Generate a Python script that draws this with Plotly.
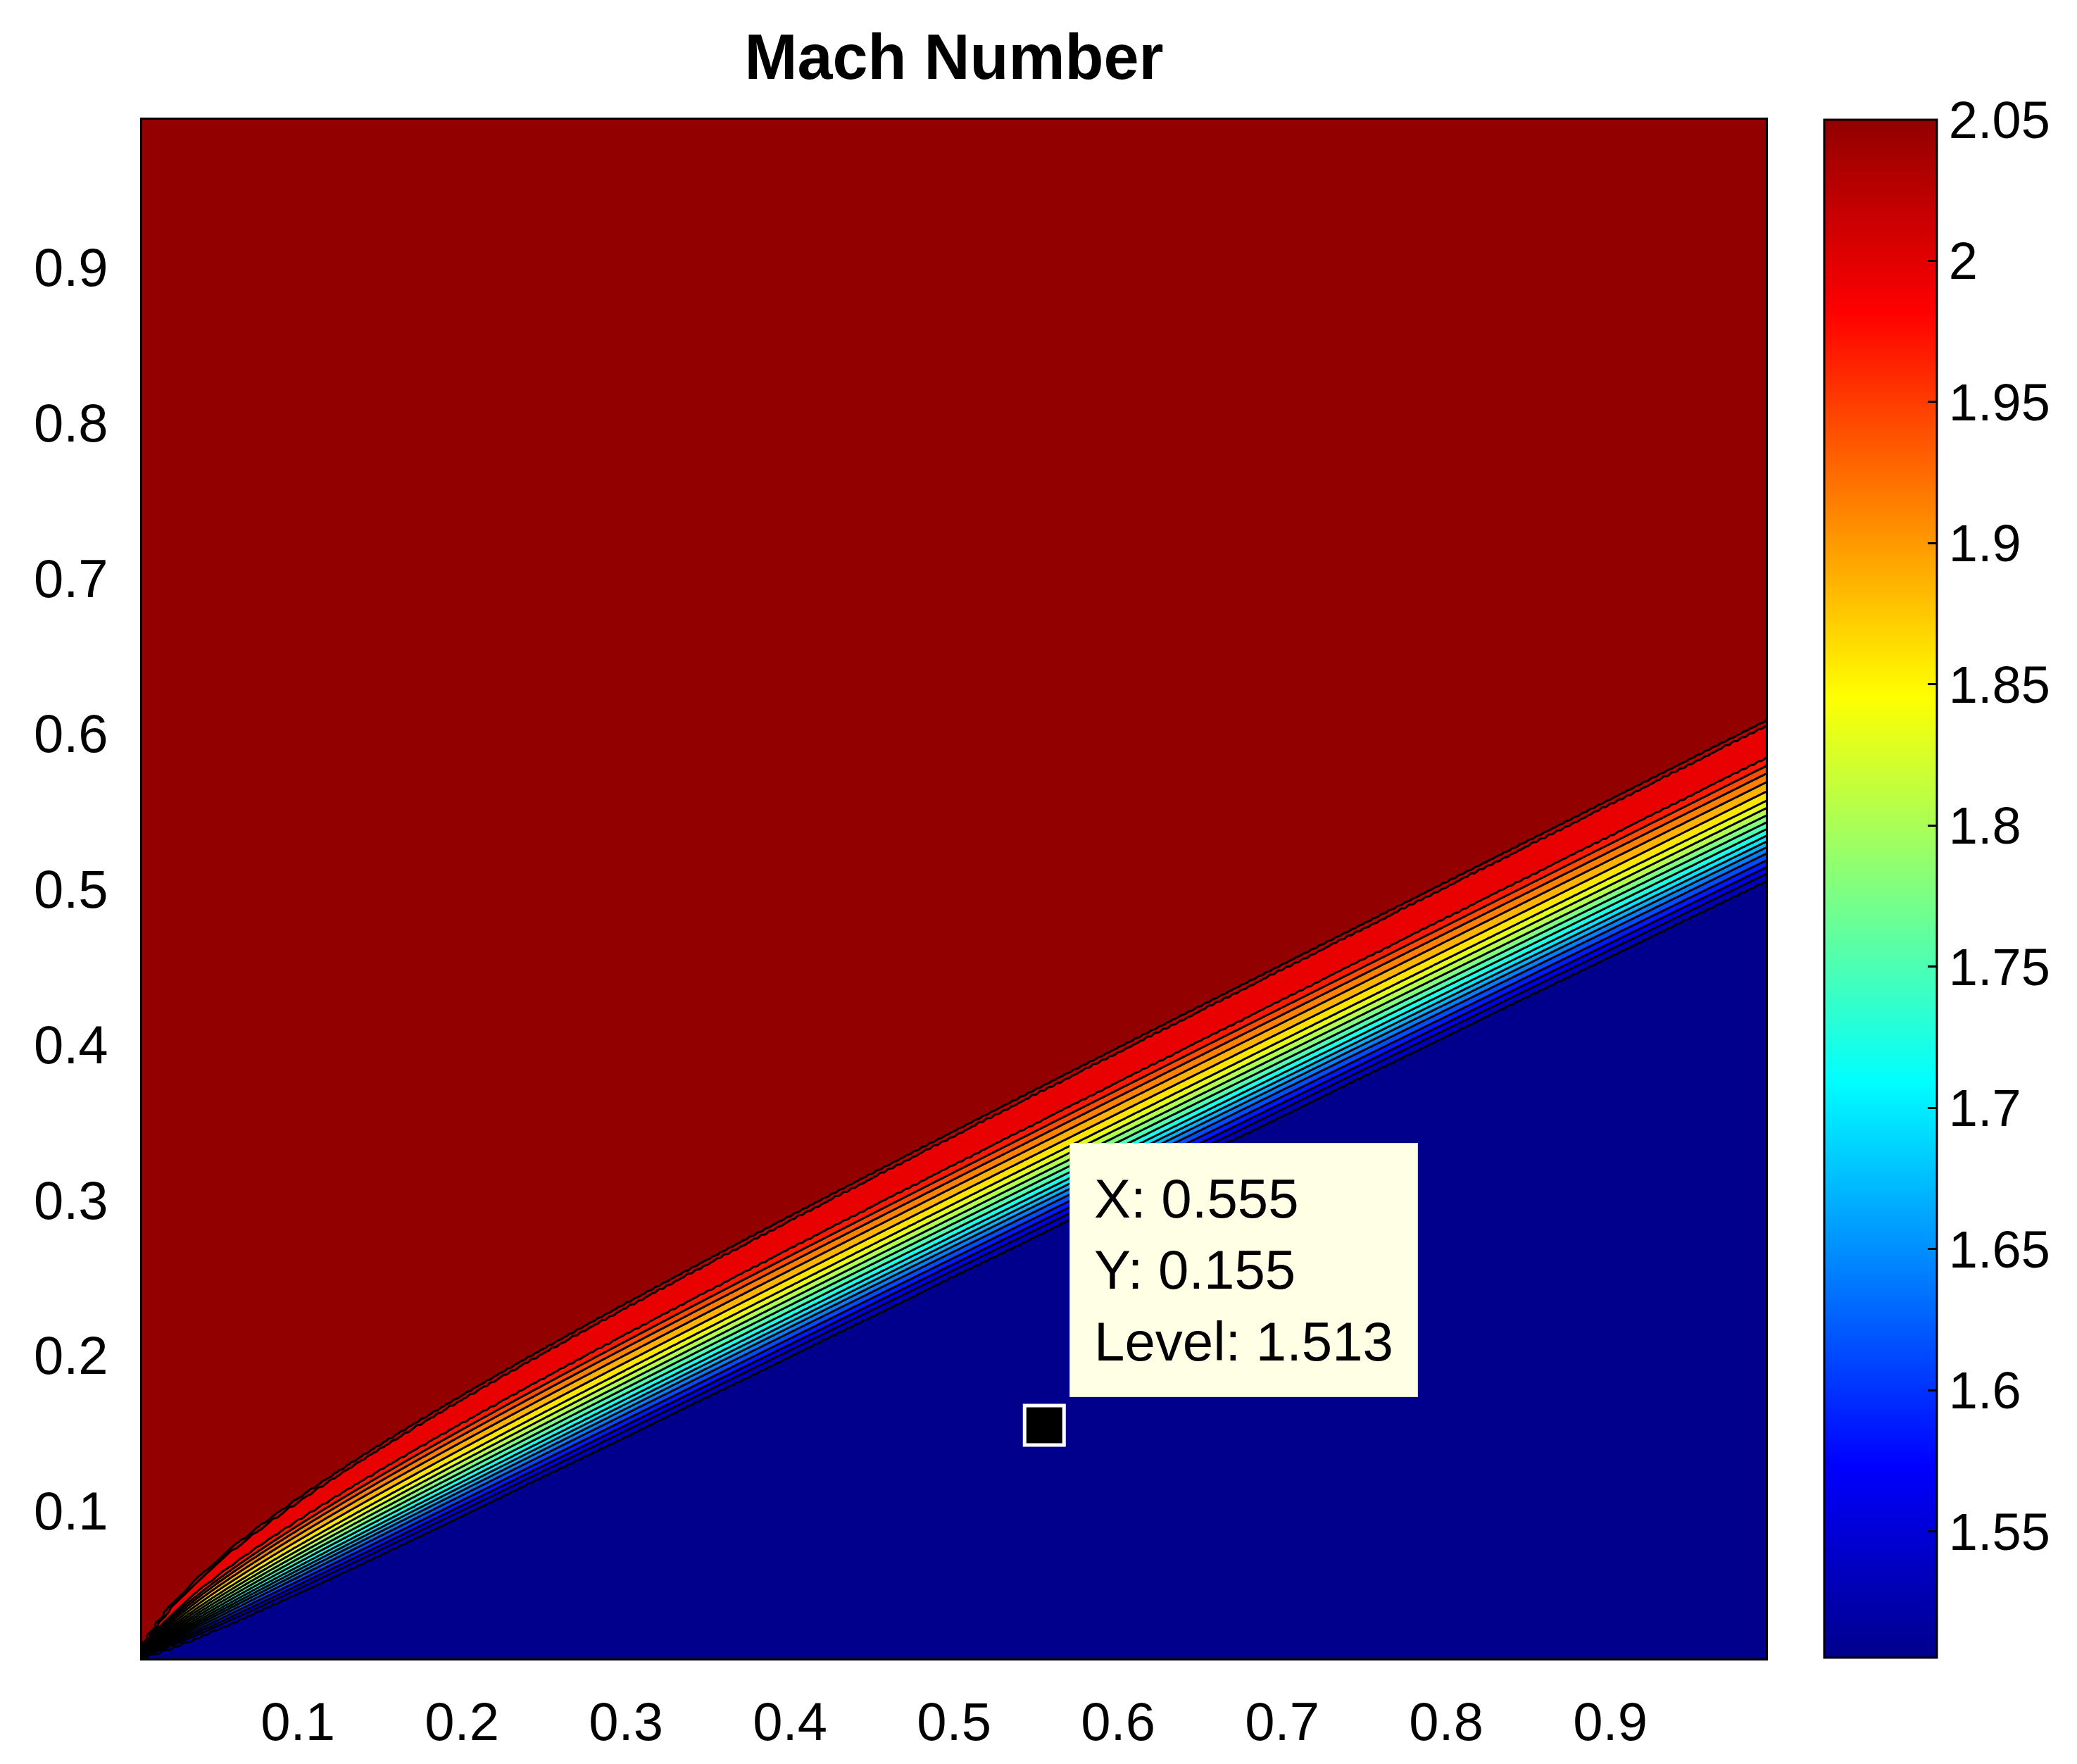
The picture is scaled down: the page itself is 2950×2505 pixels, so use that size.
"""Mach number contour with oblique shock band (MATLAB-style contourf look)."""
import numpy as np
import plotly.graph_objects as go

# --- grid of the solution (fine, so the contour lines come out smooth) ---
x_grid = np.linspace(0.005, 0.995, 397)
y_grid = np.linspace(0.005, 0.995, 397)

# --- shock band edges ---
# upper edge: dark red / red boundary
shock_top_x = [0.005, 0.03, 0.066, 0.10, 0.21, 0.32, 0.42, 0.48, 0.68, 0.995]
shock_top_y = [0.010, 0.048, 0.078, 0.107, 0.178, 0.243, 0.300, 0.330, 0.438, 0.606]
# lower edge: blue / dark blue boundary
shock_bot_x = [0.005, 0.066, 0.14, 0.28, 0.48, 0.82, 0.995]
shock_bot_y = [0.006, 0.034, 0.063, 0.140, 0.240, 0.417, 0.505]

# Mach value across the band (0 = upper edge, 1 = lower edge)
band_pos = [-0.03, 0.0, 0.22, 0.30, 0.39, 0.48, 0.60, 0.71, 0.81, 0.93, 1.0, 1.04]
band_mach = [2.046, 2.010, 1.982, 1.935, 1.89, 1.85, 1.78, 1.71, 1.635, 1.56, 1.513, 1.507]

# contour levels / colour limits
level_start = 1.513
level_size = 0.0276
level_end = 2.0374
c_min = 1.5054
c_max = 2.05
cbar_ticks = [1.55, 1.6, 1.65, 1.7, 1.75, 1.8, 1.85, 1.9, 1.95, 2.0, 2.05]
cbar_labels = ["1.55", "1.6", "1.65", "1.7", "1.75", "1.8", "1.85", "1.9", "1.95", "2", "2.05"]
axis_ticks = [0.1, 0.2, 0.3, 0.4, 0.5, 0.6, 0.7, 0.8, 0.9]
axis_labels = ["0.1", "0.2", "0.3", "0.4", "0.5", "0.6", "0.7", "0.8", "0.9"]

# data tip
tip_x = 0.555
tip_y = 0.155
tip_level = 1.513

jet = [
    [0.0, "rgb(0,0,140)"],
    [0.125, "rgb(0,0,255)"],
    [0.375, "rgb(0,255,255)"],
    [0.625, "rgb(255,255,0)"],
    [0.875, "rgb(255,0,0)"],
    [1.0, "rgb(146,0,0)"],
]


def smooth_edge(xs, ys, xq):
    # smooth curve through the read-off edge points (cubic in sqrt(x))
    coef = np.polyfit(np.sqrt(xs), ys, 3)
    return np.polyval(coef, np.sqrt(xq))


# build the field from the band edges and profile
X, Y = np.meshgrid(x_grid, y_grid)
top = smooth_edge(shock_top_x, shock_top_y, X)
bot = smooth_edge(shock_bot_x, shock_bot_y, X)
s = (top - Y) / np.maximum(top - bot, 1e-6)
Z = np.interp(s, band_pos, band_mach)

FONT = "Liberation Sans, Arial, sans-serif"

fig = go.Figure()
fig.add_trace(go.Contour(
    x=x_grid, y=y_grid, z=Z,
    colorscale=jet,
    contours=dict(start=level_start, end=level_end, size=level_size, coloring="fill"),
    line=dict(color="black", width=3),
    showscale=False,
    hoverinfo="skip",
))

# continuous colour bar (MATLAB style)
fig.add_trace(go.Scatter(
    x=[tip_x], y=[tip_y], mode="markers",
    marker=dict(
        size=1, opacity=0, color=[c_min],
        colorscale=jet, cmin=c_min, cmax=c_max, showscale=True,
        colorbar=dict(
            x=0.8756, xanchor="left", xpad=0,
            y=0.9354, yanchor="top", ypad=0,
            len=0.872, lenmode="fraction",
            thickness=160, thicknessmode="pixels",
            outlinewidth=3, outlinecolor="black",
            tickvals=cbar_ticks, ticktext=cbar_labels,
            ticks="inside", ticklen=14, tickwidth=3, tickcolor="black",
            tickfont=dict(family=FONT, size=74, color="black"),
        ),
    ),
    showlegend=False, hoverinfo="skip",
))

# data tip marker
fig.add_trace(go.Scatter(
    x=[tip_x], y=[tip_y], mode="markers",
    marker=dict(symbol="square", size=56, color="black",
                line=dict(color="white", width=5)),
    showlegend=False, hoverinfo="skip",
))

fig.add_annotation(
    x=tip_x, y=tip_y, xref="x", yref="y",
    xanchor="left", yanchor="bottom", xshift=36, yshift=40,
    showarrow=False, align="left",
    text=f"X: {tip_x}<br>Y: {tip_y}<br>Level: {tip_level}",
    font=dict(family=FONT, size=78, color="black"),
    bgcolor="#FFFFE6", bordercolor="#D8D8C8", borderwidth=1, borderpad=34,
)

axis_common = dict(
    tickvals=axis_ticks, ticktext=axis_labels,
    tickfont=dict(family=FONT, size=76, color="black"),
    showgrid=False, zeroline=False, ticks="",
    showline=True, linecolor="black", linewidth=3, mirror=True,
)
fig.update_xaxes(range=[0.005, 0.995], domain=[0.0657, 0.8476],
                 ticklabelstandoff=22, **axis_common)
fig.update_yaxes(range=[0.005, 0.995], domain=[0.063, 0.9354],
                 ticklabelstandoff=30, **axis_common)

fig.update_layout(
    width=2950, height=2505,
    margin=dict(l=0, r=0, t=0, b=0),
    paper_bgcolor="white", plot_bgcolor="white",
    title=dict(text="Mach Number", x=0.4566, xanchor="center",
               y=0.971, yanchor="middle",
               font=dict(family=FONT, size=90, color="black", weight="bold")),
    showlegend=False,
)

fig.write_html("out.html")
